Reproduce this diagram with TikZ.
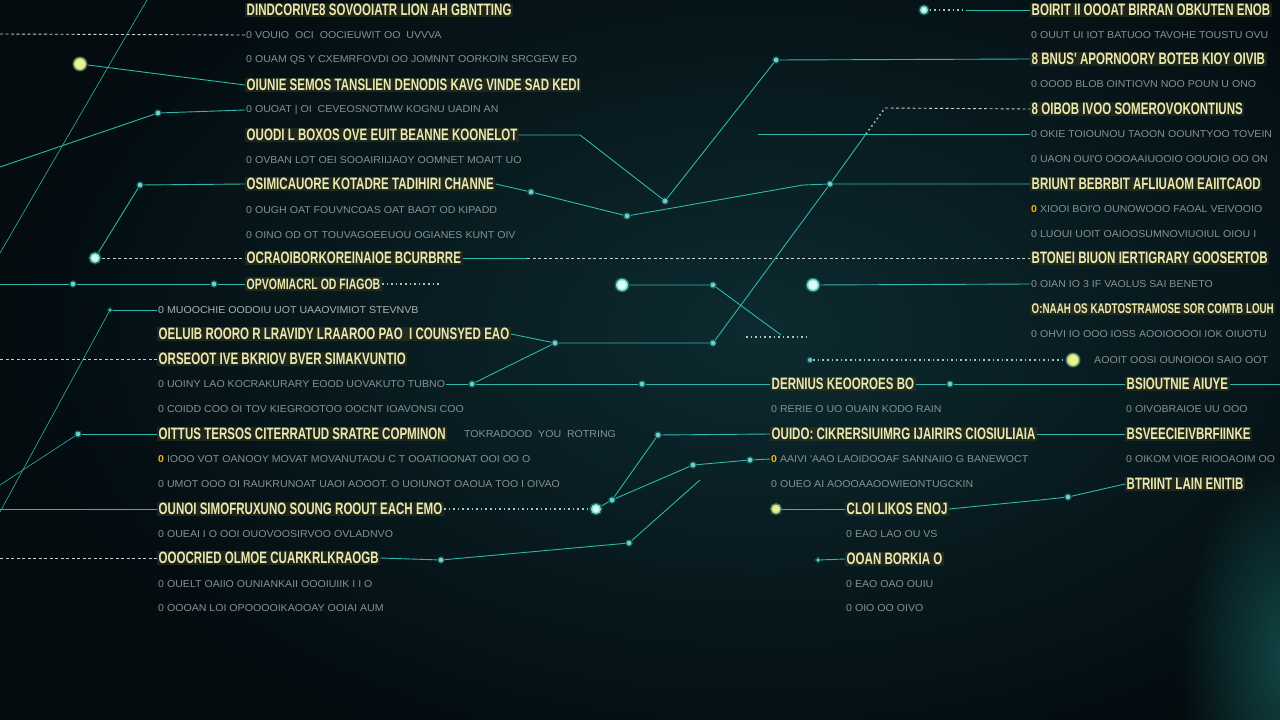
\documentclass[tikz,border=0pt]{standalone}
\usepackage{fontspec}
\newfontfamily\hdfont[FakeStretch=0.7]{Liberation Sans}
\newfontfamily\subfont[FakeStretch=1.06]{Liberation Sans}
\usetikzlibrary{calc,positioning,fadings}
\definecolor{bgdark}{HTML}{040C10}
\definecolor{bgmid}{HTML}{0D2B30}
\definecolor{wireteal}{HTML}{2DB8AC}
\definecolor{headtxt}{HTML}{ECE9B0}
\definecolor{headbg}{HTML}{30341E}
\definecolor{subtxt}{HTML}{869293}
\definecolor{dotmint}{HTML}{D9FFF4}
\definecolor{dotyel}{HTML}{EEF28A}
\definecolor{dashgrey}{HTML}{C8D2D0}
\tikzfading[name=glowout, inner color=transparent!0, outer color=transparent!100]
\pgfdeclarelayer{back}
\pgfdeclarelayer{wires}
\pgfsetlayers{back,wires,main}

\begin{document}
\begin{tikzpicture}[x=1pt,y=-1pt]
  \tikzset{Wire/.style={draw=wireteal, line width=0.9pt},
    DashWire/.style={draw=dashgrey, line width=0.9pt, dash pattern=on 3pt off 2.5pt},
    DotWire/.style={draw=dashgrey!70!wireteal, line width=1.6pt, dash pattern=on 1.6pt off 3pt},
    Head/.style={anchor=west, inner sep=1.5pt, text=headtxt, fill=headbg,
      fill opacity=0.6, text opacity=1, font=\hdfont\bfseries\fontsize{16.5}{16.5}\selectfont},
    Sub/.style={anchor=west, inner sep=1pt, text=subtxt, font=\subfont\fontsize{10}{10}\selectfont},
    Dot/.style={circle, inner sep=0pt, minimum size=5pt, fill=wireteal!60!white,
      draw=wireteal, draw opacity=0.35, line width=2.5pt},
    BigDot/.style={circle, inner sep=0pt, minimum size=12pt, fill=dotmint,
      draw=wireteal, draw opacity=0.45, line width=3pt},
    YelDot/.style={BigDot, fill=dotyel, draw=dotyel!60!wireteal}}
  \newcommand\ybul{{\color{orange!60!yellow}\textbf{0}}}

  \useasboundingbox (0,0) rectangle (1280,720);
  \begin{pgfonlayer}{back}
    \fill[bgdark] (0,0) rectangle (1280,720);
    \fill[bgmid, path fading=glowout] (760,330) ellipse (760 and 460);
    \fill[wireteal, opacity=0.35, path fading=glowout] (1290,660) ellipse (110 and 200);
  \end{pgfonlayer}

  % left column
  \node[Head] (L1) at (245,10) {DINDCORIVE8 SOVOOIATR LION AH GBNTTING};
  \node[Sub] (L2) at (245,35) {0 VOUIO\ \ OCI\ \ OOCIEUWIT OO\ \ UVVVA};
  \node[Sub] (L3) at (245,60) {0 OUAM\ QS Y\ CXEMRFOVDI OO JOMNNT OORKOIN SRCGEW EO};
  \node[Head] (L4) at (245,85) {OIUNIE SEMOS TANSLIEN DENODIS KAVG VINDE SAD KEDI};
  \node[Sub] (L5) at (245,110) {0 OUOAT | OI\ \ CEVEOSNOTMW\ KOGNU UADIN AN};
  \node[Head] (L6) at (245,135) {OUODI L BOXOS OVE EUIT BEANNE KOONELOT};
  \node[Sub] (L7) at (245,160) {0 OVBAN\ LOT\ OEI\ SOOAIRIIJAOY OOMNET MOAI'T UO};
  \node[Head] (L8) at (245,184) {OSIMICAUORE KOTADRE TADIHIRI CHANNE};
  \node[Sub] (L9) at (245,210) {0 OUGH\ OAT\ FOUVNCOAS\ OAT\ BAOT\ OD\ KIPADD};
  \node[Sub] (L10) at (245,235) {0 OINO\ OD\ OT\ TOUVAGOEEUOU OGIANES\ KUNT\ OIV};
  \node[Head] (L11) at (245,258) {OCRAOIBORKOREINAIOE BCURBRRE};
  \node[Head, font=\hdfont\bfseries\fontsize{15}{15}\selectfont] (L12) at (245,284) {OPVOMIACRL OD FIAGOB};
  \node[Sub, text=subtxt!70!white] (L13) at (157,310) {0 MUOOCHIE OODOIU UOT UAAOVIMIOT STEVNVB};
  \node[Head] (L14) at (157,334) {OELUIB ROORO R LRAVIDY LRAAROO PAO\ \ I\ COUNSYED EAO};
  \node[Head] (L15) at (157,359) {ORSEOOT IVE BKRIOV BVER SIMAKVUNTIO};
  \node[Sub] (L16) at (157,384) {0 UOINY\ LAO\ KOCRAKURARY EOOD\ UOVAKUTO\ TUBNO};
  \node[Sub] (L17) at (157,409) {0 COIDD\ COO\ OI\ TOV KIEGROOTOO\ OOCNT IOAVONSI COO};
  \node[Head] (L18) at (157,434) {OITTUS TERSOS CITERRATUD SRATRE COPMINON};
  \node[Sub] (L18b) at (463,434) {TOKRADOOD\ \ YOU\ \ ROTRING};
  \node[Sub] (L19) at (157,459) {\ybul\ IOOO\ VOT\ OANOOY MOVAT MOVANUTAOU C T OOATIOONAT OOI OO O};
  \node[Sub] (L20) at (157,484) {0 UMOT\ OOO\ OI\ RAUKRUNOAT UAOI AOOOT. O\ UOIUNOT OAOUA TOO I OIVAO};
  \node[Head] (L21) at (157,509) {OUNOI\ SIMOFRUXUNO\ SOUNG ROOUT EACH EMO};
  \node[Sub] (L22) at (157,534) {0 OUEAI I O\ OOI\ OUOVOOSIRVOO\ OVLADNVO};
  \node[Head] (L23) at (157,558) {OOOCRIED OLMOE CUARKRLKRAOGB};
  \node[Sub] (L24) at (157,584) {0 OUELT\ OAIIO\ OUNIANKAII\ OOOIUIIK I I O};
  \node[Sub] (L25) at (157,608) {0 OOOAN\ LOI\ OPOOOOIKAOOAY\ OOIAI AUM};

  % middle column
  \node[Head] (M1) at (770,384) {DERNIUS KEOOROES BO};
  \node[Sub] (M2) at (770,409) {0 RERIE\ O UO\ OUAIN KODO RAIN};
  \node[Head] (M3) at (770,434) {OUIDO: CIKRERSIUIMRG IJAIRIRS CIOSIULIAIA};
  \node[Sub] (M4) at (770,459) {\ybul\ AAIVI 'AAO\ LAOIDOOAF\ SANNAIIO G BANEWOCT};
  \node[Sub] (M5) at (770,484) {0 OUEO AI AOOOAAOOWIEONTUGCKIN};
  \node[Head] (M6) at (845,509) {CLOI LIKOS ENOJ};
  \node[Sub] (M7) at (845,534) {0 EAO\ LAO OU VS};
  \node[Head] (M8) at (845,559) {OOAN BORKIA O};
  \node[Sub] (M9) at (845,584) {0 EAO\ OAO OUIU};
  \node[Sub] (M10) at (845,608) {0 OIO\ OO OIVO};

  % right column
  \node[Head] (R1) at (1030,10) {BOIRIT II OOOAT BIRRAN OBKUTEN ENOB};
  \node[Sub] (R2) at (1030,35) {0 OUUT\ UI\ IOT\ BATUOO TAVOHE\ TOUSTU\ OVU};
  \node[Head] (R3) at (1030,59) {8 BNUS' APORNOORY BOTEB KIOY OIVIB};
  \node[Sub] (R4) at (1030,84) {0 OOOD\ BLOB\ OINTIOVN NOO\ POUN U ONO};
  \node[Head] (R5) at (1030,109) {8 OIBOB IVOO SOMEROVOKONTIUNS};
  \node[Sub] (R6) at (1030,134) {0 OKIE\ TOIOUNOU\ TAOON\ OOUNTYOO\ TOVEIN};
  \node[Sub] (R7) at (1030,159) {0 UAON\ OUI'O\ OOOAAIUOOIO\ OOUOIO\ OO ON};
  \node[Head] (R8) at (1030,184) {BRIUNT BEBRBIT AFLIUAOM EAIITCAOD};
  \node[Sub] (R9) at (1030,209) {\ybul\ XIOOI\ BOI'O\ OUNOWOOO\ FAOAL\ VEIVOOIO};
  \node[Sub] (R10) at (1030,234) {0 LUOUI\ UOIT\ OAIOOSUMNOVIUOIUL\ OIOU I};
  \node[Head] (R11) at (1030,258) {BTONEI BIUON IERTIGRARY GOOSERTOB};
  \node[Sub] (R12) at (1030,284) {0 OIAN\ IO 3 IF\ VAOLUS SAI\ BENETO};
  \node[Head, font=\hdfont\bfseries\fontsize{14}{14}\selectfont] (R13) at (1030,309) {O:NAAH OS KADTOSTRAMOSE SOR COMTB LOUH};
  \node[Sub] (R14) at (1030,334) {0 OHVI IO\ OOO IOSS AOOIOOOOI\ IOK\ OIUOTU};
  \node[Sub] (R15) at (1093,360) {AOOIT\ OOSI\ OUNOIOOI SAIO\ OOT};
  \node[Head] (R16) at (1125,384) {BSIOUTNIE AIUYE};
  \node[Sub] (R17) at (1125,409) {0 OIVOBRAIOE\ UU\ OOO};
  \node[Head] (R18) at (1125,434) {BSVEECIEIVBRFIINKE};
  \node[Sub] (R19) at (1125,459) {0 OIKOM\ VIOE\ RIOOAOIM\ OO};
  \node[Head] (R20) at (1125,484) {BTRIINT LAIN ENITIB};

  % dots
  \node[YelDot] (yA) at (80,64) {};
  \node[Dot] (d1) at (158,113) {};
  \node[Dot] (d2) at (140,185) {};
  \node[BigDot, minimum size=10pt] (wA) at (95,258) {};
  \node[Dot] (d3) at (73,284) {};
  \node[Dot] (d4) at (214,284) {};
  \node[Dot, minimum size=3pt] (d5) at (110,310) {};
  \node[Dot] (d6) at (78,434) {};
  \node[Dot] (d7) at (531,192) {};
  \node[Dot] (d8) at (627,216) {};
  \node[Dot] (d9) at (665,201) {};
  \node[Dot] (d10) at (776,60) {};
  \node[Dot] (d11) at (830,184) {};
  \node[BigDot] (wB) at (622,285) {};
  \node[Dot] (d12) at (713,285) {};
  \node[BigDot] (wC) at (813,285) {};
  \node[Dot] (d13) at (555,343) {};
  \node[Dot] (d14) at (713,343) {};
  \node[Dot] (d15) at (472,384) {};
  \node[Dot] (d16) at (642,384) {};
  \node[Dot] (d17) at (950,384) {};
  \node[Dot] (d18) at (658,435) {};
  \node[BigDot, minimum size=10pt] (wD) at (596,509) {};
  \node[Dot] (d19) at (612,500) {};
  \node[Dot] (d20) at (693,465) {};
  \node[Dot] (d21) at (750,460) {};
  \node[YelDot, minimum size=9pt] (yB) at (776,509) {};
  \node[Dot] (d22) at (441,560) {};
  \node[Dot] (d23) at (629,543) {};
  \node[Dot, minimum size=3.5pt] (d24) at (818,560) {};
  \node[BigDot, minimum size=8pt] (wE) at (924,10) {};
  \node[Dot, minimum size=4pt] (d25) at (810,360) {};
  \node[YelDot] (yC) at (1073,360) {};
  \node[Dot] (d26) at (1068,497) {};

  \coordinate (e1) at (0,34);
  \coordinate (e2) at (0,167);
  \coordinate (e3) at (147,0);
  \coordinate (e4) at (0,253);
  \coordinate (e5) at (0,284);
  \coordinate (e6) at (0,512);
  \coordinate (e7) at (0,359);
  \coordinate (e8) at (0,485);
  \coordinate (e10) at (0,509);
  \coordinate (e11) at (0,558);
  \coordinate (k1) at (527,258);
  \coordinate (k2) at (580,135);
  \coordinate (k3) at (866,134);
  \coordinate (k4) at (885,108);
  \coordinate (k5) at (758,134);
  \coordinate (k6) at (781,335);
  \coordinate (k7) at (803,185);
  \coordinate (k8) at (700,480);
  \coordinate (k9) at (1040,500);
  \coordinate (k10) at (1280,384);
  \coordinate (k11) at (966,10);
  \coordinate (k12) at (746,337);
  \coordinate (k13) at (809,337);
  \coordinate (k14) at (439,284);

  \begin{pgfonlayer}{wires}
    \draw[DashWire] (e1) -- (L2.west);
    \draw[Wire] (yA) -- (L4.west);
    \draw[Wire] (e2) -- (d1) -- (L5.west);
    \draw[Wire, line width=0.6pt] (e3) -- (e4);
    \draw[Wire] (d2) -- (L8.west);
    \draw[Wire] (d2) -- (wA);
    \draw[DashWire] (wA) -- (L11.west);
    \draw[Wire] (L11.east) -- (k1);
    \draw[DashWire] (k1) -- (R11.west);
    \draw[Wire] (e5) -- (d3) -- (d4) -- (L12.west);
    \draw[DotWire] (L12.east) -- (k14);
    \draw[Wire] (d5) -- (L13.west);
    \draw[Wire, line width=0.6pt] (d5) -- (e6);
    \draw[DashWire] (e7) -- (L15.west);
    \draw[Wire] (d6) -- (L18.west);
    \draw[Wire, line width=0.6pt] (d6) -- (e8);
    \draw[Wire] (e10) -- (L21.west);
    \draw[DotWire] (L21.east) -- (wD);
    \draw[DashWire] (e11) -- (L23.west);
    \draw[Wire] (L6.east) -- (k2) -- (d9) -- (d10) -- (R3.west);
    \draw[Wire] (L8.east) -- (d7) -- (d8) -- (k7) -- (d11) -- (R8.west);
    \draw[Wire] (d14) -- (d11) -- (k3);
    \draw[DotWire] (k3) -- (k4);
    \draw[DashWire] (k4) -- (R5.west);
    \draw[Wire] (k5) -- (R6.west);
    \draw[Wire] (wB) -- (d12) -- (k6);
    \draw[DotWire] (k12) -- (k13);
    \draw[Wire] (wC) -- (R12.west);
    \draw[Wire] (L14.east) -- (d13) -- (d14);
    \draw[Wire] (L16.east) -- (d15) -- (d16) -- (M1.west);
    \draw[Wire] (d15) -- (d13);
    \draw[Wire] (M1.east) -- (d17) -- (R16.west);
    \draw[Wire] (R16.east) -- (k10);
    \draw[Wire] (d18) -- (M3.west);
    \draw[Wire] (M3.east) -- (R18.west);
    \draw[Wire] (wD) -- (d19) -- (d20) -- (d21) -- (M4.west);
    \draw[Wire] (d19) -- (d18);
    \draw[Wire] (yB) -- (M6.west);
    \draw[Wire] (M6.east) -- (k9) -- (d26) -- (R20.west);
    \draw[Wire] (L23.east) -- (d22) -- (d23) -- (k8);
    \draw[Wire] (d24) -- (M8.west);
    \draw[DotWire] (d25) -- (yC);
    \draw[DotWire] (wE) -- (k11);
    \draw[Wire] (k11) -- (R1.west);
  \end{pgfonlayer}
\end{tikzpicture}
\end{document}
